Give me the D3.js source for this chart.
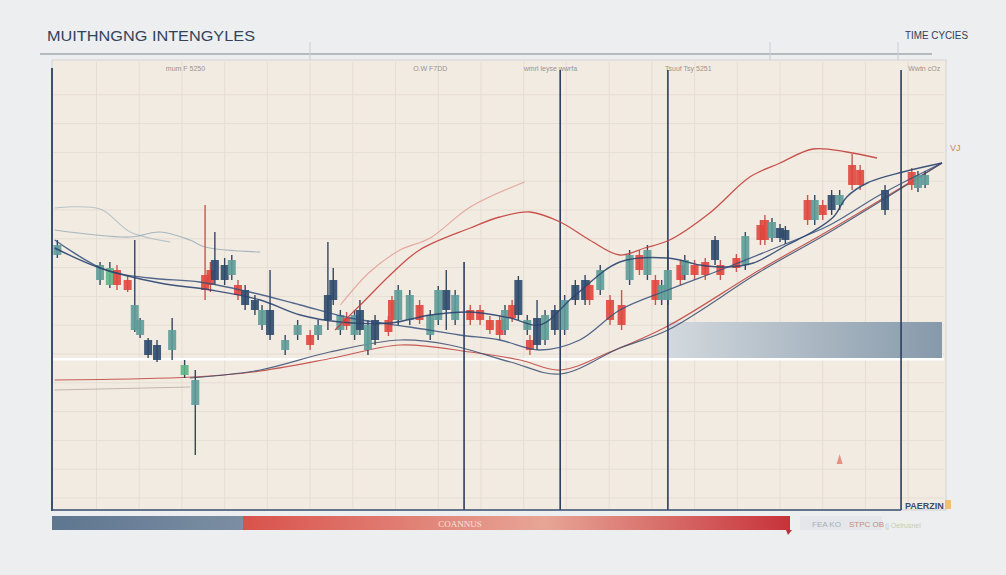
<!DOCTYPE html>
<html>
<head>
<meta charset="utf-8">
<script src="https://cdn.jsdelivr.net/npm/d3@7"></script>
<style>
  html, body { margin: 0; padding: 0; background: #eceef0; }
  svg { display: block; font-family: "Liberation Sans", Arial, sans-serif; }
</style>
</head>
<body>
<div id="chart"></div>
<script>
// candles: [day, open, high, low, close, tone]
var candles = [
  [0.6, 63.75, 67.5, 63, 66.25, "t"],
  [5.4, 57.5, 62, 56.25, 61.25, "t"],
  [6.5, 56.25, 62, 55.5, 60.5, "g"],
  [7.3, 60, 61.25, 55, 56.25, "r"],
  [8.5, 57.5, 58.75, 54.5, 55, "r"],
  [9.3, 45, 67.5, 44.5, 51.25, "t"],
  [9.9, 43.75, 48, 43, 47.5, "t"],
  [10.8, 38.75, 43, 38, 42.5, "n"],
  [11.8, 37.5, 42.5, 37, 41.25, "n"],
  [13.5, 40, 48, 37.5, 45, "t"],
  [14.9, 33.75, 37.5, 33, 36.25, "g"],
  [16.1, 26.25, 35, 13.75, 32.5, "t"],
  [17.2, 58.75, 76.25, 52.5, 55, "r"],
  [17.8, 60, 62, 54.5, 56.25, "r"],
  [18.3, 57.5, 69.5, 56.25, 62.5, "n"],
  [19.4, 57.5, 63, 56.25, 61.25, "n"],
  [20.2, 58.75, 63.75, 57.5, 62.5, "t"],
  [20.9, 56.25, 57.5, 52.5, 53.75, "r"],
  [21.7, 51.25, 56.25, 50, 55, "n"],
  [22.8, 50, 53.75, 48.75, 52.5, "n"],
  [23.6, 46.25, 51.25, 45, 50, "t"],
  [24.5, 43.75, 60, 42.5, 50, "n"],
  [26.2, 40, 43.75, 38.75, 42.5, "t"],
  [27.6, 43.75, 47.5, 42.5, 46.25, "t"],
  [29.0, 43.75, 45, 40, 41.25, "r"],
  [29.9, 43.75, 47.5, 42.5, 46.25, "t"],
  [31.0, 47.5, 67, 45, 53.75, "n"],
  [31.6, 52.5, 60.5, 51.25, 57.5, "n"],
  [32.4, 45, 50, 43.75, 48.75, "t"],
  [33.1, 48, 49.5, 45, 46, "r"],
  [34.0, 43.75, 50, 42.5, 48.75, "t"],
  [34.6, 45, 52.5, 43.75, 50, "n"],
  [35.5, 40, 47.5, 38.75, 46.25, "t"],
  [36.3, 42.5, 48.75, 41.25, 47.5, "n"],
  [37.8, 47.5, 48.5, 43.5, 44.5, "r"],
  [38.2, 52.5, 53.5, 46.5, 47.5, "r"],
  [38.9, 47.5, 56.25, 46.25, 55, "t"],
  [40.2, 47.5, 55, 46.25, 53.75, "t"],
  [41.3, 51.25, 52.5, 46.5, 47.5, "r"],
  [42.5, 43.75, 50, 42.5, 48.75, "t"],
  [43.4, 47.5, 56, 46.25, 55, "t"],
  [44.3, 50, 60, 45, 55, "n"],
  [45.3, 47.5, 55, 46.25, 53.75, "t"],
  [47.0, 50, 51.25, 46.25, 47.5, "r"],
  [48.1, 50, 51.25, 46.25, 47.5, "r"],
  [49.2, 47.5, 48.5, 44, 45, "r"],
  [50.3, 47.5, 48.75, 42.5, 43.75, "r"],
  [50.9, 45, 51.25, 43.75, 50, "t"],
  [51.7, 51.25, 52.5, 47, 48, "r"],
  [52.4, 48.75, 58.5, 47.5, 57.5, "n"],
  [53.4, 45, 48.75, 43.75, 47.5, "t"],
  [53.7, 42.5, 43.75, 38.75, 40, "r"],
  [54.5, 41.25, 52.5, 40, 48, "n"],
  [55.4, 42.5, 50, 41.25, 48.75, "t"],
  [56.5, 45, 51.25, 43.75, 50, "n"],
  [57.6, 45, 53.75, 43.75, 52.5, "t"],
  [58.8, 52.5, 57.5, 51.25, 56.25, "n"],
  [59.9, 52.5, 58.75, 51.25, 57.5, "n"],
  [60.4, 56.25, 57.5, 51.25, 52.5, "r"],
  [61.6, 55, 61.25, 53.75, 60, "t"],
  [62.7, 52.5, 53.75, 46.25, 47.5, "r"],
  [64.0, 51.25, 55, 45, 46.25, "r"],
  [64.9, 57.5, 65, 56.25, 63.75, "t"],
  [66.0, 63.75, 65, 58.75, 60, "r"],
  [66.9, 58.75, 66.25, 57.5, 65, "t"],
  [67.8, 57.5, 58.75, 51.25, 52.5, "r"],
  [68.5, 52.5, 57.5, 51.25, 56.25, "t"],
  [69.2, 52.5, 65, 51.25, 60, "t"],
  [70.6, 61.25, 62.5, 56.25, 57.5, "r"],
  [71.1, 58.75, 63.75, 57.5, 62.5, "t"],
  [72.2, 61.25, 62.5, 57.5, 58.75, "r"],
  [73.4, 62, 63, 57.5, 58.75, "r"],
  [74.5, 62.5, 68.5, 61.25, 67.5, "n"],
  [75.1, 61.25, 62.5, 57.5, 58.75, "r"],
  [76.9, 63, 64, 59.5, 60.5, "r"],
  [77.9, 61.25, 69.5, 60, 68.5, "t"],
  [79.6, 71.25, 72.5, 66.25, 67.5, "r"],
  [80.1, 72.5, 73.75, 66.25, 67.5, "r"],
  [80.9, 68, 73, 67, 72, "t"],
  [81.8, 68, 71.5, 67, 70.5, "n"],
  [82.4, 67.5, 71, 66.5, 70, "n"],
  [84.9, 77.5, 78.75, 71.25, 72.5, "r"],
  [85.7, 72.5, 78.75, 71.25, 77.5, "t"],
  [86.6, 76.25, 77.5, 72.5, 73.75, "r"],
  [87.6, 75, 80, 73.75, 78.75, "n"],
  [88.5, 76.25, 80, 75, 78.75, "t"],
  [89.9, 86.25, 89, 80, 81.25, "r"],
  [90.8, 85, 86.25, 80, 81.25, "r"],
  [93.6, 75, 81.25, 73.75, 80, "n"],
  [96.6, 84.5, 85.5, 80, 81.25, "r"],
  [97.3, 80.5, 84.75, 79.5, 83.75, "t"],
  [98.1, 81.25, 84.75, 80.5, 83.75, "t"]
];

// moving averages and trend lines: [day, price]
var maFast = [[0.3,65.5],[5.4,60.5],[12.1,56.75],[17.8,55],[23.4,52.5],[27.9,48.75],[32.4,47],[38,46.75],[42.5,48.75],[47,49.5],[51.5,48],[54.8,46.25],[58.8,53.75],[63.8,62],[69.2,63],[72.8,61.25],[75.8,60.75],[78.8,61.75],[82.6,66.25],[85.2,69.25],[87.8,73.25],[89.3,78.25],[91.6,81.75],[95.6,84.5],[100,86.75]];
var maMid = [[0.3,67.5],[6,60],[11,58],[16.6,57],[22.2,54.5],[27.9,51.25],[33.5,48],[40.2,45.75],[45.8,43.75],[50.3,42.5],[54.8,40],[59.3,42.5],[63.8,50],[69.2,55],[75.1,60],[80.7,65],[87.4,71.25],[93,78.75],[100,86.75]];
var trendLow = [[15.5,33],[23.4,35],[31.2,39.5],[39.1,42.5],[44.7,41.25],[51.5,37],[57.1,34],[63.8,40.5],[69.2,45],[79.5,59.5],[87.4,69.5],[100,86.75]];
var redLow = [[0.3,32.5],[15.8,33.25],[22.6,34.5],[31.6,38],[39.1,41.25],[47,39.5],[52.6,37.5],[57.1,35],[62.7,39.5],[69.2,46],[79.5,60],[87.4,70],[100,86.75]];
var redHigh = [[31.8,45],[35.2,52.5],[38,58.75],[41.3,65],[47,70.5],[50.3,73.25],[53.7,74.5],[57.1,72],[60.4,67.5],[63.8,63.75],[66.6,65.5],[69.4,67.5],[73.9,74.25],[78.4,83.25],[81.8,86.75],[85.5,90.25],[89.3,89.5],[92.7,88]];
var redFaint = [[32.4,51.25],[35.7,59.5],[39.1,65],[42.5,68],[47,75.75],[53.1,82]];
var grayA = [[0.3,70],[8.8,68.25],[12.1,69.5],[15.5,67.5],[17.2,65.75],[23.4,64.5]];
var grayB = [[0.3,75.5],[5.4,75.25],[8.8,69.5],[13.3,67]];
var grayC = [[0.3,30],[15.5,30.75]];

// cycle dividers: [day, top price]
var dividers = [[46.3, 62], [57.1, 110], [69.2, 110], [95.4, 110]];

var topLabels = [[15, "mum F 5250"], [42.5, "O.W F7DD"], [56, "wmrl leyse wwrfa"], [71.5, "Tsuuf Tsy 5251"], [98, "Wwtn cOz"]];
var title = "MUITHNGNG INTENGYLES";
var subtitle = "TIME CYCIES";
var barLabel = "COANNUS";

var W = 1006, H = 575;
var tones = { r: "#e0473e", t: "#5e9c98", n: "#2e4a6d", g: "#5fb487", b: "#3f6ea6" };

var svg = d3.select("#chart").append("svg")
    .attr("width", W)
    .attr("height", H);

var defs = svg.append("defs");

var x = d3.scaleLinear().domain([0, 100]).range([52, 942]);
var y = d3.scaleLinear().domain([0, 110]).range([510, 70]);

// title
svg.append("text")
    .attr("x", 47).attr("y", 41)
    .attr("font-size", 15)
    .attr("fill", "#34435a")
    .attr("textLength", 208)
    .attr("lengthAdjust", "spacingAndGlyphs")
    .text(title);

svg.append("text")
    .attr("x", 905).attr("y", 39)
    .attr("font-size", 11)
    .attr("fill", "#2f3f57")
    .attr("textLength", 63)
    .attr("lengthAdjust", "spacingAndGlyphs")
    .text(subtitle);

svg.append("line")
    .attr("x1", 40).attr("x2", 932)
    .attr("y1", 54).attr("y2", 54)
    .attr("stroke", "#a3a8ae").attr("stroke-width", 1.5);

[310, 770, 898].forEach(function(px) {
    svg.append("line")
        .attr("x1", px).attr("x2", px)
        .attr("y1", 42).attr("y2", 60)
        .attr("stroke", "#c9cdd2");
});

// plot background
svg.append("rect")
    .attr("x", 52).attr("y", 60)
    .attr("width", 894).attr("height", 450)
    .attr("fill", "#f2ebe2")
    .attr("stroke", "#cfd2d5");

// grid
var g = svg.append("g");
g.selectAll(".vgrid")
    .data(d3.range(5, 100, 4.8))
    .enter().append("line")
    .attr("x1", function(d) { return x(d); })
    .attr("x2", function(d) { return x(d); })
    .attr("y1", 62).attr("y2", 510)
    .attr("stroke", "#e6ddd3").attr("stroke-width", 1);
g.selectAll(".hgrid")
    .data(d3.range(3, 110, 7.2))
    .enter().append("line")
    .attr("x1", 52).attr("x2", 944)
    .attr("y1", function(d) { return y(d); })
    .attr("y2", function(d) { return y(d); })
    .attr("stroke", "#e6ddd3").attr("stroke-width", 1);

// top labels
svg.selectAll(".toplabel")
    .data(topLabels)
    .enter().append("text")
    .attr("x", function(d) { return x(d[0]); })
    .attr("y", 71)
    .attr("text-anchor", "middle")
    .attr("font-size", 7)
    .attr("fill", "#9a948d")
    .text(function(d) { return d[1]; });

// gradient block
var gb = defs.append("linearGradient").attr("id", "block");
gb.append("stop").attr("offset", "0%").attr("stop-color", "#d3d9de");
gb.append("stop").attr("offset", "100%").attr("stop-color", "#8699aa");
svg.append("rect")
    .attr("x", x(69.2)).attr("y", y(47))
    .attr("width", x(100) - x(69.2)).attr("height", y(38) - y(47))
    .attr("fill", "url(#block)");

svg.append("line")
    .attr("x1", 52).attr("x2", 944)
    .attr("y1", y(37.7)).attr("y2", y(37.7))
    .attr("stroke", "#ffffff").attr("stroke-width", 2.5);

// lines
var line = d3.line()
    .x(function(d) { return x(d[0]); })
    .y(function(d) { return y(d[1]); })
    .curve(d3.curveCatmullRom.alpha(0.5));

function drawLine(data, color, width, opacity) {
    svg.append("path")
        .datum(data)
        .attr("d", line)
        .attr("fill", "none")
        .attr("stroke", color)
        .attr("stroke-width", width)
        .attr("stroke-opacity", opacity);
}

drawLine(grayB, "#9fb2bd", 1.1, 0.7);
drawLine(grayA, "#8ea4b3", 1.2, 0.75);
drawLine(grayC, "#b7a9a3", 1, 0.8);
drawLine(redFaint, "#e0918a", 1.1, 0.75);
drawLine(redLow, "#c0413c", 1.2, 0.85);
drawLine(trendLow, "#3a4d6e", 1.2, 0.85);

// dividers
svg.selectAll(".divider")
    .data(dividers)
    .enter().append("line")
    .attr("x1", function(d) { return x(d[0]); })
    .attr("x2", function(d) { return x(d[0]); })
    .attr("y1", function(d) { return y(d[1]); })
    .attr("y2", 510)
    .attr("stroke", "#2b3d5e").attr("stroke-width", 1.6);

// candles
var cw = 8;
var candle = svg.selectAll(".candle")
    .data(candles)
    .enter().append("g")
    .attr("class", "candle");

candle.append("line")
    .attr("x1", function(d) { return x(d[0]); })
    .attr("x2", function(d) { return x(d[0]); })
    .attr("y1", function(d) { return y(d[2]); })
    .attr("y2", function(d) { return y(d[3]); })
    .attr("stroke", function(d) { return d[5] === "r" ? "#c65750" : "#34465f"; })
    .attr("stroke-width", 1.4);

candle.append("rect")
    .attr("x", function(d) { return x(d[0]) - cw / 2; })
    .attr("y", function(d) { return y(Math.max(d[1], d[4])); })
    .attr("width", cw)
    .attr("height", function(d) { return Math.max(2, Math.abs(y(d[1]) - y(d[4]))); })
    .attr("fill", function(d) { return tones[d[5]]; })
    .attr("fill-opacity", 0.9);

drawLine(maMid, "#36507a", 1.3, 0.85);
drawLine(maFast, "#2b4570", 1.4, 0.9);
drawLine(redHigh, "#c4403c", 1.3, 0.9);

// axes frame
svg.append("line")
    .attr("x1", 52).attr("x2", 52)
    .attr("y1", 68).attr("y2", 511)
    .attr("stroke", "#3d5070").attr("stroke-width", 2);
svg.append("line")
    .attr("x1", 51).attr("x2", x(95.4))
    .attr("y1", 510).attr("y2", 510)
    .attr("stroke", "#3d5070").attr("stroke-width", 1.6);

// small markers on the right
svg.append("text")
    .attr("x", 950).attr("y", 151)
    .attr("font-size", 9).attr("fill", "#d1826b")
    .text("VJ");
svg.append("path")
    .attr("d", "M" + x(88.5) + "," + y(14) + " l-3,10 l6,0 z")
    .attr("fill", "#e07a6a").attr("opacity", 0.8);

// bottom bar
var rg = defs.append("linearGradient").attr("id", "redbar");
rg.append("stop").attr("offset", "0%").attr("stop-color", "#d9524c");
rg.append("stop").attr("offset", "55%").attr("stop-color", "#e7a596");
rg.append("stop").attr("offset", "100%").attr("stop-color", "#c7323a");
var bg = defs.append("linearGradient").attr("id", "bluebar");
bg.append("stop").attr("offset", "0%").attr("stop-color", "#5f7690");
bg.append("stop").attr("offset", "100%").attr("stop-color", "#7b8ea3");

svg.append("rect")
    .attr("x", 52).attr("y", 516)
    .attr("width", 191).attr("height", 14)
    .attr("fill", "url(#bluebar)");
svg.append("rect")
    .attr("x", 243).attr("y", 516)
    .attr("width", 547).attr("height", 14)
    .attr("fill", "url(#redbar)");
svg.append("path")
    .attr("d", "M786,530 L792,530 L788,535 Z")
    .attr("fill", "#b8303a");
svg.append("text")
    .attr("x", 460).attr("y", 527)
    .attr("text-anchor", "middle")
    .attr("font-size", 9)
    .attr("fill", "#f6e2dc")
    .attr("font-family", "'Liberation Serif', serif")
    .text(barLabel);

svg.append("rect")
    .attr("x", 800).attr("y", 516)
    .attr("width", 82).attr("height", 14)
    .attr("fill", "#e4e6e9");
svg.append("text")
    .attr("x", 812).attr("y", 527)
    .attr("font-size", 8).attr("fill", "#a5afbb")
    .text("FEA KO");
svg.append("text")
    .attr("x", 849).attr("y", 527)
    .attr("font-size", 8).attr("fill", "#c98a7f")
    .text("STPC OB");
svg.append("text")
    .attr("x", 885).attr("y", 528)
    .attr("font-size", 7).attr("fill", "#c8cbb0")
    .text("(j Oeirusnel");

svg.append("text")
    .attr("x", 905).attr("y", 509)
    .attr("font-size", 9).attr("font-weight", "bold")
    .attr("fill", "#3a4d70")
    .text("PAERZIN");
svg.append("rect")
    .attr("x", 945).attr("y", 500)
    .attr("width", 6).attr("height", 9)
    .attr("fill", "#f0c070");
</script>
</body>
</html>
